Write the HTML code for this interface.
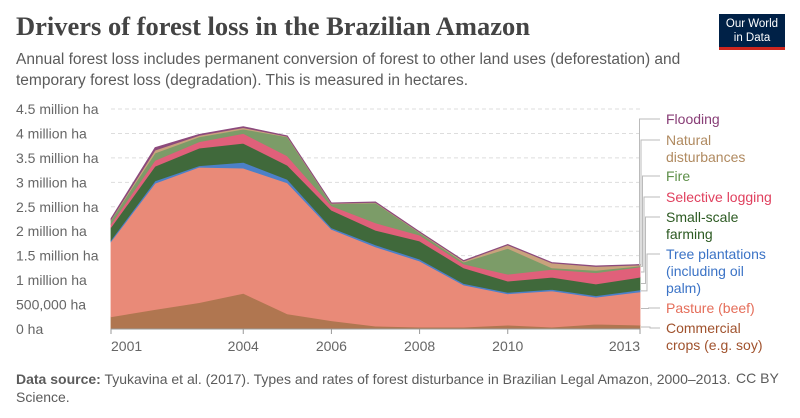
<!DOCTYPE html>
<html><head><meta charset="utf-8"><style>
body{margin:0;background:#fff;font-family:"Liberation Sans",sans-serif;}
#wrap{position:relative;width:800px;height:418px;overflow:hidden;}
.t{position:absolute;white-space:nowrap;}
</style></head><body>
<div id="wrap">
<div class="t" style="left:16px;top:11px;font-family:'Liberation Serif',serif;font-weight:bold;font-size:26.5px;color:#444;">Drivers of forest loss in the Brazilian Amazon</div>
<div class="t" style="left:16px;top:49px;font-size:15.5px;line-height:21px;color:#5b5b5b;white-space:normal;width:700px;">Annual forest loss includes permanent conversion of forest to other land uses (deforestation) and temporary forest loss (degradation). This is measured in hectares.</div>
<div style="position:absolute;left:719px;top:14px;width:66px;height:36px;background:#002147;border-bottom:3px solid #ce261e;color:#fff;font-size:11.5px;line-height:14px;text-align:center;padding-top:3px;box-sizing:border-box;">Our World<br>in Data</div>
<svg id="svg" width="800" height="418" style="position:absolute;left:0;top:0"></svg>
<div class="t" style="left:16px;top:370px;font-size:14px;line-height:18px;color:#5b5b5b;"><b>Data source:</b> Tyukavina et al. (2017). Types and rates of forest disturbance in Brazilian Legal Amazon, 2000–2013.<br>Science.</div>
<div class="t" style="left:736px;top:370px;font-size:14px;color:#5b5b5b;">CC BY</div>
</div>
<script>
const years=[2001,2002,2003,2004,2005,2006,2007,2008,2009,2010,2011,2012,2013];
const crops=[0.25,0.4,0.54,0.73,0.31,0.17,0.06,0.04,0.04,0.08,0.04,0.1,0.08];
const pasture=[1.54,2.58,2.77,2.56,2.68,1.87,1.62,1.35,0.86,0.64,0.74,0.55,0.68];
const plantations=[0.03,0.05,0.03,0.12,0.07,0.03,0.04,0.04,0.03,0.03,0.03,0.03,0.04];
const smallScale=[0.26,0.30,0.36,0.39,0.29,0.36,0.30,0.37,0.32,0.23,0.25,0.24,0.26];
const logging=[0.07,0.12,0.13,0.2,0.19,0.09,0.15,0.12,0.08,0.14,0.16,0.23,0.21];
const fire=[0.08,0.15,0.1,0.09,0.39,0.04,0.41,0.05,0.04,0.53,0.03,0.05,0.02];
const natural=[0.01,0.06,0.03,0.03,0.01,0.01,0.01,0.01,0.02,0.07,0.1,0.08,0.02];
const flooding=[0.02,0.05,0.02,0.02,0.01,0.01,0.01,0.01,0.01,0.01,0.01,0.01,0.01];
const yTicks=[0,0.5,1,1.5,2,2.5,3,3.5,4,4.5];
const yTickLabels=["0 ha","500,000 ha","1 million ha","1.5 million ha","2 million ha","2.5 million ha","3 million ha","3.5 million ha","4 million ha","4.5 million ha"];
const xTicks=[2001,2004,2006,2008,2010,2013];

const series=[
 {name:"crops",v:crops,c:"#b07650",label:["Commercial","crops (e.g. soy)"],lc:"#a0522d",ly:328},
 {name:"pasture",v:pasture,c:"#e98a78",label:["Pasture (beef)"],lc:"#e56e5a",ly:308},
 {name:"plantations",v:plantations,c:"#4c80c8",label:["Tree plantations","(including oil","palm)"],lc:"#3b73c6",ly:254},
 {name:"small-scale",v:smallScale,c:"#40693b",label:["Small-scale","farming"],lc:"#2c5a22",ly:217},
 {name:"logging",v:logging,c:"#e0607a",label:["Selective logging"],lc:"#e0405e",ly:197},
 {name:"fire",v:fire,c:"#7c9c68",label:["Fire"],lc:"#5e8f49",ly:176},
 {name:"natural",v:natural,c:"#c9a27c",label:["Natural","disturbances"],lc:"#b08a60",ly:140},
 {name:"flooding",v:flooding,c:"#8c4a7c",label:["Flooding"],lc:"#883d76",ly:119}
];
const X0=111,X1=640,Y0=329,Y1=109;
const x=yr=>X0+(yr-2001)/(2013-2001)*(X1-X0);
const y=v=>Y0-v/4.5*(Y0-Y1);
const svg=document.getElementById('svg');
const NS="http://www.w3.org/2000/svg";
function mk(t,a){const e=document.createElementNS(NS,t);for(const k in a)e.setAttribute(k,a[k]);svg.appendChild(e);return e;}
yTicks.forEach((t,i)=>{
 if(t>0){const g=mk('line',{x1:X0,x2:X1,y1:y(t),y2:y(t),stroke:'#ddd','stroke-dasharray':'4,3'});
 
 }
 const l=mk('text',{x:16,y:y(t)+5,'font-size':14,fill:'#666','font-family':'Liberation Sans, sans-serif'});
 l.textContent=yTickLabels[i];
 
 
});
let base=years.map(()=>0);
const tops=[];
series.forEach(s=>{
 const top=base.map((b,i)=>b+s.v[i]);
 let d=years.map((yr,i)=>(i?'L':'M')+x(yr)+','+y(top[i])).join('');
 for(let i=years.length-1;i>=0;i--)d+='L'+x(years[i])+','+y(base[i]);
 const p=mk('path',{d:d+'Z',fill:s.c,stroke:s.c,'stroke-width':0.8});
 
 
 tops.push({s,mid:(y(base[12])+y(top[12]))/2});
 base=top;
});
const ax=mk('line',{x1:X0,x2:X1,y1:Y0,y2:Y0,stroke:'#999'});


xTicks.forEach((t,i)=>{
 mk('line',{x1:x(t),x2:x(t),y1:Y0,y2:Y0+5,stroke:'#999'});
 const anchor=i==0?'start':(i==xTicks.length-1?'end':'middle');
 const l=mk('text',{x:x(t),y:Y0+22,'font-size':14,fill:'#666','text-anchor':anchor,'font-family':'Liberation Sans, sans-serif'});
 l.textContent=t;
 
 
});
tops.forEach((o,k)=>{
 const s=o.s;const lx=666;const vx=650-k*1.5;
 const c=mk('polyline',{points:`${X1+1},${o.mid} ${vx},${o.mid} ${vx},${s.ly} ${lx-6},${s.ly}`,fill:'none',stroke:'#bbb','stroke-width':1});
 
 
 s.label.forEach((ln,j)=>{
  const t=mk('text',{x:lx,y:s.ly+5+j*17,'font-size':14,fill:s.lc,'font-family':'Liberation Sans, sans-serif'});
  t.textContent=ln;
  
  
 });
});
</script>
</body></html>
